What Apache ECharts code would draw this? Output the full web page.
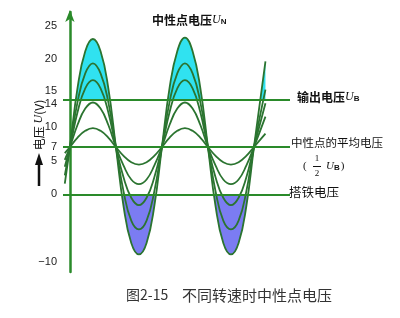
<!DOCTYPE html>
<html><head><meta charset="utf-8">
<script src="https://cdn.jsdelivr.net/npm/echarts@6/dist/echarts.min.js"></script>
<style>html,body{margin:0;padding:0;background:#fff}#c{width:400px;height:318px}</style>
</head><body><div id="c"></div>
<script>
// phase positions (degrees) along the time axis
const phase = [-20, 0, 30, 60, 90, 120, 150, 180, 210, 240, 270, 300, 330, 360, 390, 420, 450, 480, 510, 540, 570, 600, 630, 660, 690, 720, 765];
// neutral-point voltage curves at different speeds (V)
const curve1 = [1.6, 7, 15.8, 21.2, 23, 21.2, 15.8, 7, -1.8, -7.2, -8.9, -7.2, -1.8, 7, 15.8, 21.2, 23.2, 21.2, 15.8, 7, -1.8, -7.2, -8.9, -7.2, -1.8, 7, 19.7];
const curve2 = [2.8, 7, 13.7, 17.9, 19.4, 17.9, 13.7, 7, 0.4, -3.9, -5.2, -3.9, 0.4, 7, 13.7, 17.9, 19.4, 17.9, 13.7, 7, 0.4, -3.9, -5.2, -3.9, 0.4, 7, 15.5];
const curve3 = [4.1, 7, 12.2, 15.7, 16.9, 15.7, 12.2, 7, 2.5, -0.5, -1.6, -0.5, 2.5, 7, 12.2, 15.7, 16.9, 15.7, 12.2, 7, 2.5, -0.5, -1.6, -0.5, 2.5, 7, 13.5];
const curve4 = [5.1, 7, 10.3, 12.7, 13.6, 12.7, 10.3, 7, 4.25, 2.2, 1.5, 2.2, 4.25, 7, 10.3, 12.7, 13.6, 12.7, 10.3, 7, 4.25, 2.2, 1.5, 2.2, 4.25, 7, 11.5];
const curve5 = [6.1, 7, 8.4, 9.4, 9.8, 9.4, 8.4, 7, 5.7, 4.75, 4.4, 4.75, 5.7, 7, 8.4, 9.4, 9.8, 9.4, 8.4, 7, 5.7, 4.75, 4.4, 4.75, 5.7, 7, 9];
// reference levels: output voltage, average neutral voltage, ground
const refLevels = [14, 7, 0];
const yTicks = [-10, 0, 5, 7, 10, 14, 15, 20, 25];

const pair = arr => arr.map((v, i) => [phase[i], v]);
const curves = [curve1, curve2, curve3, curve4, curve5];
const GREEN = '#2a8a2a';
const CURVE = '#2b7430';
const SMOOTH = 0.45;

const series = [{
  type: 'line', data: pair(curve1), smooth: SMOOTH, symbol: 'none', silent: true,
  lineStyle: { opacity: 0, width: 0 },
  areaStyle: { origin: 7, opacity: 1 }, z: 1
}];
curves.forEach((c, i) => {
  series.push({
    type: 'line', data: pair(c), smooth: SMOOTH, symbol: 'none', silent: true,
    lineStyle: { color: CURVE, width: 1.8 }, z: 3
  });
});
series.push({
  type: 'line', data: [], silent: true, z: 2,
  markLine: {
    silent: true, symbol: 'none', label: { show: false },
    lineStyle: { color: GREEN, width: 2, type: 'solid' },
    data: refLevels.map(v => ({ yAxis: v }))
  }
});

const chart = echarts.init(document.getElementById('c'), null, { renderer: 'canvas' });
chart.setOption({
  animation: false,
  backgroundColor: '#fff',
  grid: { left: 63, top: 12, width: 227, bottom: 46 },
  xAxis: { type: 'value', min: -27, max: 861, show: false },
  yAxis: {
    type: 'value', min: -11.5, max: 27,
    axisLine: { show: true, symbol: ['none', 'arrow'], symbolSize: [7, 12], symbolOffset: [0, 2],
      lineStyle: { color: GREEN, width: 2.5 } },
    axisTick: { show: false },
    splitLine: { show: false },
    axisLabel: {
      customValues: yTicks, margin: 6, color: '#222', fontSize: 11,
      fontFamily: 'Liberation Sans',
      formatter: v => v === 14 ? '{d|14}' : v === 15 ? '{u|15}' : v < 0 ? '\u2212' + Math.abs(v) : String(v),
      rich: {
        d: { padding: [9, 0, 0, 0], fontSize: 11, color: '#222', fontFamily: 'Liberation Sans' },
        u: { padding: [0, 0, 5, 0], fontSize: 11, color: '#222', fontFamily: 'Liberation Sans' }
      }
    }
  },
  visualMap: {
    show: false, type: 'piecewise', seriesIndex: 0, dimension: 1,
    pieces: [
      { lt: 0, color: '#7b7cf2' },
      { gte: 0, lte: 14, color: 'rgba(255,255,255,0)' },
      { gt: 14, color: '#30e2f0' }
    ]
  },
  series: series,
  graphic: [
    { type: 'text', x: 39, y: 125, rotation: Math.PI / 2,
      style: { text: '电压 {i|U}(V)', fill: '#111', font: '12px "Noto Sans CJK SC"', align: 'center', verticalAlign: 'middle',
        rich: { i: { fontStyle: 'italic', fontFamily: 'Liberation Serif', fontSize: 12, fill: '#111' } } } },
    { type: 'line', shape: { x1: 39, y1: 186, x2: 39, y2: 162 }, style: { stroke: '#111', lineWidth: 2.5 } },
    { type: 'polygon', shape: { points: [[39, 153], [35, 165], [43, 165]] }, style: { fill: '#111' } },
    { type: 'text', x: 152, y: 20,
      style: { text: '中性点电压{i|U}{s|N}', fill: '#111', font: 'bold 12px "Noto Sans CJK SC"', verticalAlign: 'middle',
        rich: { i: { fontStyle: 'italic', fontFamily: 'Liberation Serif', fontSize: 12 }, s: { fontSize: 8, padding: [4, 0, 0, 0], fontWeight: 'bold' } } } },
    { type: 'text', x: 297, y: 97,
      style: { text: '输出电压{i|U}{s|B}', fill: '#111', font: 'bold 12px "Noto Sans CJK SC"', verticalAlign: 'middle',
        rich: { i: { fontStyle: 'italic', fontFamily: 'Liberation Serif', fontSize: 12 }, s: { fontSize: 8, padding: [4, 0, 0, 0], fontWeight: 'bold' } } } },
    { type: 'text', x: 291, y: 143,
      style: { text: '中性点的平均电压', fill: '#111', font: '11.5px "Noto Sans CJK SC"', verticalAlign: 'middle' } },
    { type: 'text', x: 303, y: 166, style: { text: '(', fill: '#111', font: '11px "Liberation Serif"', verticalAlign: 'middle' } },
    { type: 'text', x: 317, y: 159, style: { text: '1', fill: '#111', font: '9px "Liberation Serif"', align: 'center', verticalAlign: 'middle' } },
    { type: 'line', shape: { x1: 313, y1: 166.5, x2: 321, y2: 166.5 }, style: { stroke: '#111', lineWidth: 1 } },
    { type: 'text', x: 317, y: 174, style: { text: '2', fill: '#111', font: '9px "Liberation Serif"', align: 'center', verticalAlign: 'middle' } },
    { type: 'text', x: 326, y: 166,
      style: { text: '{i|U}{s|B})', fill: '#111', font: '11px "Liberation Serif"', verticalAlign: 'middle',
        rich: { i: { fontStyle: 'italic', fontFamily: 'Liberation Serif', fontSize: 11 }, s: { fontSize: 8, padding: [3, 1, 0, 0], fontWeight: 'bold' } } } },
    { type: 'text', x: 289, y: 192,
      style: { text: '搭铁电压', fill: '#111', font: '12.5px "Noto Sans CJK SC"', verticalAlign: 'middle' } },
    { type: 'text', x: 126, y: 295,
      style: { text: '图2-15', fill: '#333', font: '14px "Noto Sans CJK SC"', verticalAlign: 'middle' } },
    { type: 'text', x: 182, y: 295,
      style: { text: '不同转速时中性点电压', fill: '#333', font: '15px "Noto Sans CJK SC"', verticalAlign: 'middle' } }
  ]
});
</script></body></html>
